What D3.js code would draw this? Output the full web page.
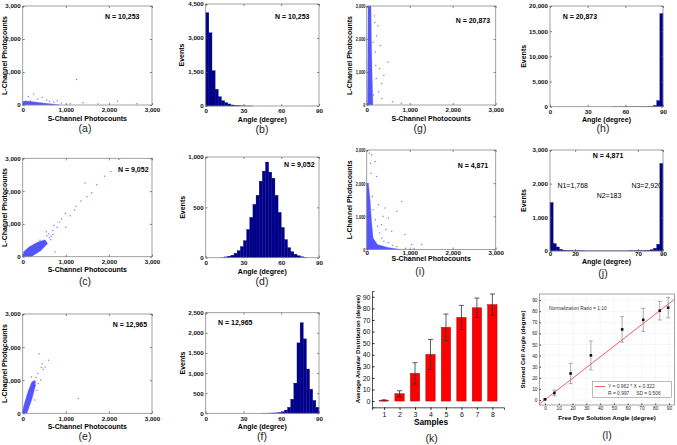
<!DOCTYPE html>
<html lang="en">
<head>
<meta charset="UTF-8">
<title>Photocount panels</title>
<script src="https://d3js.org/d3.v7.min.js"></script>
<style>
  body { margin: 0; background: #fff; }
  text { font-family: "Liberation Sans", Arial, sans-serif; }
</style>
</head>
<body>
<div id="chart"></div>
<script>
// ---------- data ----------
var binWidth = 2.5;   // histogram bins, degrees

var histB = [4120,3230,1560,740,410,235,150,90,45,25,12,6,3,2,1,0,0,0,0,0,0,0,0,0,0,0,0,0,0,0,0,0,0,0,0,0];
var histD = [0,0,0,0,0,1,8,15,25,45,70,110,170,280,400,530,620,760,860,950,850,790,620,450,300,180,100,60,35,20,10,5,0,0,0,0];
var histF = [0,0,0,0,0,0,0,0,0,0,0,0,0,0,0,0,0,0,2,3,5,8,10,20,40,80,150,350,750,1750,2250,1850,1100,600,320,150];
var histH = [0,0,0,0,0,0,0,0,0,0,0,0,0,0,0,0,0,0,0,0,2,5,8,10,15,20,25,30,40,50,60,80,120,250,1200,18500];
var histJ = [1440,220,120,50,25,15,10,8,6,5,5,4,4,4,4,4,4,4,4,4,4,4,4,4,4,5,5,6,8,10,15,25,40,80,200,2600];

// scatter: dense core outline + sparse events (S, L photocounts)
var coreA = [[0,0],[850,0],[700,30],[480,60],[250,95],[80,125],[0,110]];
var ptsA = [[1250,770],[130,260],[350,180],[560,150],[720,90],[900,60],[1100,40],[1400,70],[1750,30],[2200,110],[2650,40],[450,230],[250,330],[180,120],[620,110],[800,130]];

var coreC = [[0,0],[200,0],[420,180],[580,400],[520,520],[350,450],[150,300],[20,150],[0,40]];
var ptsC = [[2230,2960],[1490,1830],[1720,2190],[990,1320],[1240,1530],[720,960],[480,460],[600,700],[800,900],[850,1050],[1100,1250],[1350,1700],[1600,1950],[1900,2450],[2050,2600],[660,620],[550,760],[700,800],[900,1150],[400,500],[1000,900],[1200,1420],[1450,2250],[750,150],[650,520],[620,580],[560,640],[700,680]];

var coreE = [[0,0],[100,0],[220,450],[300,850],[280,1000],[210,950],[120,650],[40,300],[0,100]];
var ptsE = [[480,1320],[420,1000],[380,1800],[350,1200],[1290,450],[300,950],[250,800],[520,1400],[430,1380],[600,1600],[200,1100],[330,700],[280,400],[450,1500],[310,1080],[360,900]];

var coreG = [[15,0],[145,0],[125,1000],[110,2000],[100,3000],[30,3000],[25,1500]];
var ptsG = [[350,650],[500,1300],[230,2100],[280,400],[200,1600],[180,2700],[400,900],[300,1100],[260,2400],[150,1900],[220,800],[350,200],[600,100],[800,50],[160,300],[210,1200],[190,2500],[320,1800]];

var coreI = [[0,0],[800,0],[500,60],[250,150],[150,350],[110,900],[80,1500],[40,2000],[0,2000]];
var ptsI = [[232,2200],[271,1350],[426,1250],[504,950],[700,1150],[891,450],[1046,150],[581,550],[349,750],[194,2650],[116,2850],[814,1450],[1279,150],[150,1200],[130,1600],[100,2300],[90,2600],[60,2900],[200,900],[250,700],[300,500],[350,350],[400,250],[500,200],[600,120],[700,80],[900,40],[1100,30],[450,600],[380,1000]];

// (k) / (l): eight samples
var samples = [1,2,3,4,5,6,7,8];
var dyeAngle = [0,6.8,18.6,33.3,56,71.3,83.3,89.4];
var cellAngle = [0.6,6.3,23.9,40.2,63.6,72.2,80.5,83.2];
var cellErr = [0.5,2.6,9.2,13,11.5,10.4,8.4,9.2];
var fitSlope = 0.962, fitIntercept = 0.322;

var photoTicks = [0,1000,2000,3000];
var angleTicks = [0,30,60,90];
var angleTicksJ = [0,20,70,90];

// ---------- drawing ----------
var W = 677, H = 445;
var svg = d3.select("#chart").append("svg").attr("width", W).attr("height", H);
svg.append("rect").attr("width", W).attr("height", H).attr("fill", "#fff");

var fmt = d3.format(",");

function matFrame(g, x, y, xTicks, yTicks, p) {
  var xr = x.range(), yr = y.range();
  g.append("rect").attr("x", xr[0]).attr("y", yr[1])
    .attr("width", xr[1] - xr[0]).attr("height", yr[0] - yr[1])
    .attr("fill", "none").attr("stroke", "#8a8a8a").attr("stroke-width", 0.8);

  var bx = g.append("g").attr("transform", "translate(0," + yr[0] + ")")
    .call(d3.axisBottom(x).tickValues(xTicks).tickSize(-2).tickPadding(p.pad == null ? 3 : p.pad).tickFormat(fmt));
  var ly = g.append("g").attr("transform", "translate(" + xr[0] + ",0)")
    .call(d3.axisLeft(y).tickValues(yTicks).tickSize(-2).tickPadding(2).tickFormat(fmt));
  var tx = g.append("g").attr("transform", "translate(0," + yr[1] + ")")
    .call(d3.axisTop(x).tickValues(xTicks).tickSize(-2).tickFormat(""));
  var ry = g.append("g").attr("transform", "translate(" + xr[1] + ",0)")
    .call(d3.axisRight(y).tickValues(yTicks).tickSize(-2).tickFormat(""));
  [bx, ly, tx, ry].forEach(function (a) {
    a.select(".domain").remove();
    a.selectAll("line").attr("stroke", "#555").attr("stroke-width", 0.7);
    a.selectAll("text").attr("font-size", 6.2).attr("font-weight", "bold")
      .attr("fill", "#111").attr("font-family", "Liberation Sans, Arial, sans-serif");
  });
  if (p.squeeze) ly.selectAll("text").attr("transform", "scale(" + p.squeeze + ",1)");
}

function titles(g, box, xt, yt, p) {
  g.append("text").attr("x", (box[0] + box[2]) / 2).attr("y", box[3] + (p.toff || 15.5))
    .attr("text-anchor", "middle").attr("font-size", 7).attr("font-weight", "bold").text(xt);
  g.append("text").attr("transform", "translate(" + p.ytx + "," + ((box[1] + box[3]) / 2) + ") rotate(-90)")
    .attr("text-anchor", "middle").attr("dy", "0.35em")
    .attr("font-size", 7).attr("font-weight", "bold").text(yt);
}

function panelLabel(txt, x, y) {
  svg.append("text").attr("x", x).attr("y", y).attr("text-anchor", "middle")
    .attr("font-size", 10.5).attr("fill", "#222").text(txt);
}

function nLabel(g, txt, x, y, anchor, weight) {
  g.append("text").attr("x", x).attr("y", y).attr("text-anchor", anchor || "start")
    .attr("font-size", 7).attr("font-weight", weight || "bold").text(txt);
}

var scatterPanels = [
  { box: [22.7, 6, 152, 105], core: coreA, pts: ptsA, n: "N = 10,253", nx: 105, ny: 18.5, lab: "(a)", lx: 85, ly: 132, ytx: 5 },
  { box: [22.7, 158.3, 152, 256.7], core: coreC, pts: ptsC, n: "N = 9,052", nx: 118, ny: 171.5, lab: "(c)", lx: 85, ly: 285, ytx: 5, toff: 15 },
  { box: [22.7, 314, 152, 413.3], core: coreE, pts: ptsE, n: "N = 12,965", nx: 112.7, ny: 326.5, lab: "(e)", lx: 85, ly: 440, ytx: 5 },
  { box: [366.7, 6, 495.7, 105], core: coreG, pts: ptsG, n: "N = 20,873", nx: 455.7, ny: 23, lab: "(g)", lx: 420, ly: 132, ytx: 350, squeeze: 0.62 },
  { box: [366.7, 150, 495.7, 249.5], core: coreI, pts: ptsI, n: "N = 4,871", nx: 457.7, ny: 167.5, lab: "(i)", lx: 420, ly: 275, ytx: 350, squeeze: 0.62, pad: 1, toff: 11 }
];

scatterPanels.forEach(function (p) {
  var g = svg.append("g");
  var x = d3.scaleLinear().domain([0, 3000]).range([p.box[0], p.box[2]]);
  var y = d3.scaleLinear().domain([0, 3000]).range([p.box[3], p.box[1]]);
  var line = d3.line().x(function (d) { return x(d[0]); }).y(function (d) { return y(d[1]); });
  g.append("path").attr("d", line(p.core) + "Z").attr("fill", "#2a2aff").attr("fill-opacity", 0.8)
    .attr("stroke", "#6a6aff").attr("stroke-width", 0.6).attr("stroke-opacity", 0.5);
  g.selectAll("circle.pt").data(p.pts).enter().append("circle")
    .attr("cx", function (d) { return x(d[0]); }).attr("cy", function (d) { return y(d[1]); })
    .attr("r", 0.75).attr("fill", "#3b3bff").attr("fill-opacity", 0.65);
  matFrame(g, x, y, photoTicks, photoTicks, p);
  titles(g, p.box, "S-Channel Photocounts", "L-Channel Photocounts", p);
  nLabel(g, p.n, p.nx, p.ny);
  panelLabel(p.lab, p.lx, p.ly);
});

var histPanels = [
  { box: [205.7, 4, 319, 106], data: histB, ymax: 4500, yt: [0, 1500, 3000, 4500], xt: angleTicks, n: "N = 10,253", nx: 275, ny: 18.5, lab: "(b)", lx: 262, ly: 133, ytx: 182 },
  { box: [205.7, 157, 319, 257.7], data: histD, ymax: 1000, yt: [0, 500, 1000], xt: angleTicks, n: "N = 9,052", nx: 284, ny: 166.5, lab: "(d)", lx: 262, ly: 285, ytx: 183, toff: 16 },
  { box: [205.7, 312.7, 319, 413.3], data: histF, ymax: 2500, yt: [0, 500, 1000, 1500, 2000, 2500], xt: angleTicks, n: "N = 12,965", nx: 218, ny: 325, lab: "(f)", lx: 262, ly: 440, ytx: 183 },
  { box: [550, 6, 663, 106.7], data: histH, ymax: 20000, yt: [0, 5000, 10000, 15000, 20000], xt: angleTicks, n: "N = 20,873", nx: 562.7, ny: 18.5, lab: "(h)", lx: 603, ly: 132, ytx: 524 },
  { box: [550, 150, 663, 251], data: histJ, ymax: 3000, yt: [0, 1000, 2000, 3000], xt: angleTicksJ, n: null, lab: "(j)", lx: 603, ly: 277, ytx: 524, pad: 1, toff: 13 }
];

histPanels.forEach(function (p) {
  var g = svg.append("g");
  var x = d3.scaleLinear().domain([0, 90]).range([p.box[0], p.box[2]]);
  var y = d3.scaleLinear().domain([0, p.ymax]).range([p.box[3], p.box[1]]);
  g.selectAll("rect.bar").data(p.data).enter().append("rect")
    .attr("x", function (d, i) { return x(i * binWidth); })
    .attr("width", function (d, i) { return x((i + 1) * binWidth) - x(i * binWidth); })
    .attr("y", function (d) { return y(d); })
    .attr("height", function (d) { return y(0) - y(d); })
    .attr("fill", "#00008b").attr("stroke", "#00007a").attr("stroke-width", 0.3);
  matFrame(g, x, y, p.xt, p.yt, p);
  titles(g, p.box, "Angle (degree)", "Events", p);
  if (p.n) nLabel(g, p.n, p.nx, p.ny);
  panelLabel(p.lab, p.lx, p.ly);
});

// (j) annotations
var gj = svg.append("g");
nLabel(gj, "N = 4,871", 608, 157.5, "middle");
nLabel(gj, "N1=1,768", 572.7, 187.5, "middle", "normal");
nLabel(gj, "N2=183", 609, 198, "middle", "normal");
nLabel(gj, "N3=2,920", 646.7, 187.5, "middle", "normal");

// ---------- (k) bar chart ----------
(function () {
  var g = svg.append("g");
  var x = d3.scaleLinear().domain([0.22, 8.75]).range([372, 504]);
  var y = d3.scaleLinear().domain([-5.4, 95]).range([407.3, 291]);
  var bw = 9.3;
  g.selectAll("rect.kb").data(samples).enter().append("rect")
    .attr("x", function (d) { return x(d) - bw / 2; })
    .attr("width", bw)
    .attr("y", function (d, i) { return y(cellAngle[i]); })
    .attr("height", function (d, i) { return y(0) - y(cellAngle[i]); })
    .attr("fill", "#ff0000").attr("stroke", "#b00000").attr("stroke-width", 0.5);
  var eb = g.selectAll("g.eb").data(samples).enter().append("g").attr("stroke", "#333").attr("stroke-width", 0.8);
  eb.append("line").attr("x1", function (d) { return x(d); }).attr("x2", function (d) { return x(d); })
    .attr("y1", function (d, i) { return y(cellAngle[i] - cellErr[i]); })
    .attr("y2", function (d, i) { return y(cellAngle[i] + cellErr[i]); });
  [-1, 1].forEach(function (s) {
    eb.append("line").attr("x1", function (d) { return x(d) - 2.5; }).attr("x2", function (d) { return x(d) + 2.5; })
      .attr("y1", function (d, i) { return y(cellAngle[i] + s * cellErr[i]); })
      .attr("y2", function (d, i) { return y(cellAngle[i] + s * cellErr[i]); });
  });
  var ax = g.append("g").attr("transform", "translate(0,407.3)")
    .call(d3.axisBottom(x).tickValues(samples).tickSize(2.5).tickPadding(2));
  var ay = g.append("g").attr("transform", "translate(372,0)")
    .call(d3.axisLeft(y).tickValues(d3.range(0, 91, 10)).tickSize(-2.5).tickPadding(1.5));
  [ax, ay].forEach(function (a) {
    a.select(".domain").attr("stroke", "#222").attr("stroke-width", 0.8);
    a.selectAll("line").attr("stroke", "#222");
    a.selectAll("text").attr("font-size", 7).attr("fill", "#111").attr("font-family", "Liberation Sans, Arial, sans-serif");
  });
  g.append("text").attr("x", 431).attr("y", 425).attr("text-anchor", "middle")
    .attr("font-size", 8.3).attr("font-weight", "bold").text("Samples");
  g.append("text").attr("transform", "translate(357.5,349) rotate(-90)").attr("text-anchor", "middle")
    .attr("dy", "0.35em").attr("font-size", 6).attr("font-weight", "bold")
    .text("Average Angular Distribution (degree)");
  panelLabel("(k)", 431.7, 442);
})();

// ---------- (l) fit plot ----------
(function () {
  var g = svg.append("g");
  var x = d3.scaleLinear().domain([-4, 94]).range([539.5, 674.5]);
  var y = d3.scaleLinear().domain([-4.5, 95.5]).range([405, 294]);
  var ticks = d3.range(0, 91, 10);
  g.selectAll("line.gx").data(ticks).enter().append("line")
    .attr("x1", function (d) { return x(d); }).attr("x2", function (d) { return x(d); })
    .attr("y1", 294).attr("y2", 405).attr("stroke", "#ddd").attr("stroke-width", 0.5).attr("stroke-dasharray", "1,1");
  g.selectAll("line.gy").data(ticks).enter().append("line")
    .attr("y1", function (d) { return y(d); }).attr("y2", function (d) { return y(d); })
    .attr("x1", 539.5).attr("x2", 674.5).attr("stroke", "#ddd").attr("stroke-width", 0.5).attr("stroke-dasharray", "1,1");
  g.append("rect").attr("x", 539.5).attr("y", 294).attr("width", 135).attr("height", 111)
    .attr("fill", "none").attr("stroke", "#666").attr("stroke-width", 0.6);
  var xd = x.domain();
  g.append("line").attr("x1", x(xd[0])).attr("y1", y(fitSlope * xd[0] + fitIntercept))
    .attr("x2", x(xd[1])).attr("y2", y(fitSlope * xd[1] + fitIntercept))
    .attr("stroke", "#e8504f").attr("stroke-width", 0.9);
  var eb = g.selectAll("g.le").data(dyeAngle).enter().append("g").attr("stroke", "#777").attr("stroke-width", 0.6);
  eb.append("line").attr("x1", function (d) { return x(d); }).attr("x2", function (d) { return x(d); })
    .attr("y1", function (d, i) { return y(cellAngle[i] - cellErr[i]); })
    .attr("y2", function (d, i) { return y(cellAngle[i] + cellErr[i]); });
  [-1, 1].forEach(function (s) {
    eb.append("line").attr("x1", function (d) { return x(d) - 2; }).attr("x2", function (d) { return x(d) + 2; })
      .attr("y1", function (d, i) { return y(cellAngle[i] + s * cellErr[i]); })
      .attr("y2", function (d, i) { return y(cellAngle[i] + s * cellErr[i]); });
  });
  g.selectAll("rect.lp").data(dyeAngle).enter().append("rect")
    .attr("x", function (d) { return x(d) - 1.3; }).attr("y", function (d, i) { return y(cellAngle[i]) - 1.3; })
    .attr("width", 2.6).attr("height", 2.6).attr("fill", "#111");
  var ax = g.append("g").attr("transform", "translate(0,405)")
    .call(d3.axisBottom(x).tickValues(ticks).tickSize(-1.5).tickPadding(2));
  var ay = g.append("g").attr("transform", "translate(539.5,0)")
    .call(d3.axisLeft(y).tickValues(ticks).tickSize(-1.5).tickPadding(2));
  [ax, ay].forEach(function (a) {
    a.select(".domain").remove();
    a.selectAll("line").attr("stroke", "#444");
    a.selectAll("text").attr("font-size", 4.8).attr("fill", "#222").attr("font-family", "Liberation Sans, Arial, sans-serif");
  });
  g.append("text").attr("x", 607).attr("y", 420).attr("text-anchor", "middle")
    .attr("font-size", 6.2).attr("font-weight", "bold").text("Free Dye Solution Angle (degree)");
  g.append("text").attr("transform", "translate(523,349.5) rotate(-90)").attr("text-anchor", "middle")
    .attr("dy", "0.35em").attr("font-size", 6).attr("font-weight", "bold").text("Stained Cell Angle (degree)");
  g.append("text").attr("x", 549).attr("y", 310).attr("font-size", 4.9).attr("fill", "#333")
    .text("Normalization Ratio = 1:10");
  // legend
  g.append("rect").attr("x", 592.7).attr("y", 381.7).attr("width", 79).attr("height", 15.6)
    .attr("fill", "#fff").attr("stroke", "#777").attr("stroke-width", 0.5);
  g.append("line").attr("x1", 595).attr("x2", 605).attr("y1", 386.5).attr("y2", 386.5)
    .attr("stroke", "#e8504f").attr("stroke-width", 0.9);
  g.append("text").attr("x", 608).attr("y", 388.3).attr("font-size", 4.9).attr("fill", "#333")
    .text("Y = 0.962 * X + 0.322");
  g.append("text").attr("x", 608).attr("y", 395).attr("font-size", 4.9).attr("fill", "#333")
    .attr("xml:space", "preserve").text("R = 0.997     SD = 0.506");
  panelLabel("(l)", 607, 439);
})();
</script>
</body>
</html>
